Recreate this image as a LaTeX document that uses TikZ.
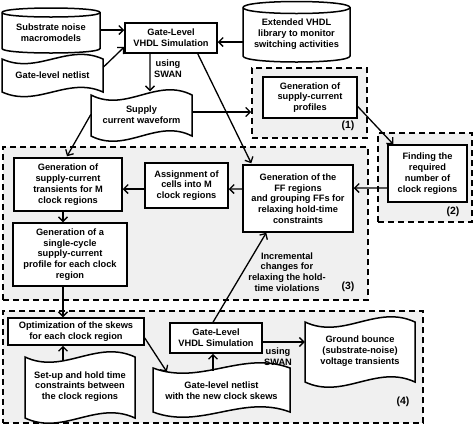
\documentclass[tikz,border=0pt]{standalone}
\usepackage{fontspec}
\setmainfont{Liberation Sans}
\usetikzlibrary{arrows.meta,calc}
\newcommand{\tapeshape}[5]{%
 \draw[shp] (#1,#2) .. controls ({#1+0.35*(#3-#1)},{#2+#5}) and ({#1+0.65*(#3-#1)},{#2-#5}) .. (#3,#2) -- (#3,#4) .. controls ({#1+0.65*(#3-#1)},{#4-#5}) and ({#1+0.35*(#3-#1)},{#4+#5}) .. (#1,#4) -- cycle;}
\newcommand{\cylshape}[5]{%
 \draw[shp] (#1,{#2+#5}) -- (#1,{#4-#5}) .. controls (#1,{#4+#5/3}) and (#3,{#4+#5/3}) .. (#3,{#4-#5}) -- (#3,{#2+#5}) .. controls (#3,{#2-#5/3}) and (#1,{#2-#5/3}) .. (#1,{#2+#5}) -- cycle;
 \draw[line width=1.5bp] (#1,{#2+#5}) .. controls (#1,{#2+7*#5/3}) and (#3,{#2+7*#5/3}) .. (#3,{#2+#5});}
\begin{document}
\begin{tikzpicture}[x=1bp,y=-1bp,
  txt/.style={font=\fontsize{9.3}{10.8}\selectfont\bfseries, align=center, inner sep=0pt},
  boxn/.style={txt, draw, fill=white, line width=1.5bp},
  dbox/.style={draw, fill=gray!12, dash pattern=on 6bp off 4bp, line width=1.8bp, inner sep=0pt},
  arr/.style={line width=1.3bp, -{Straight Barb[length=4.5bp,width=9bp,line width=1.3bp]}},
  lbl/.style={font=\fontsize{10.5}{12}\selectfont\bfseries, inner sep=0pt},
  shp/.style={draw, fill=white, line width=1.5bp}
]
\useasboundingbox (0,0) rectangle (474,425);

% dashed groups
\node[dbox, minimum width=115bp, minimum height=70bp] (g1) at (309.5,103) {};
\node[dbox, minimum width=94bp, minimum height=89bp] (g2) at (425,177.5) {};
\node[dbox, minimum width=365bp, minimum height=153bp] (g3) at (185.5,223.5) {};
\node[dbox, minimum width=420bp, minimum height=112bp] (g4) at (213,367) {};
\node[lbl] (l1) at (348,126) {(1)};
\node[lbl] (l2) at (453,212) {(2)};
\node[lbl] (l3) at (348,287) {(3)};
\node[lbl] (l4) at (403,402) {(4)};

% cylinders
\cylshape{2}{8}{100}{53}{4.5}
\node[txt, minimum width=98bp, minimum height=40bp] (sub) at (51,33) {Substrate noise\\macromodels};
\cylshape{243}{1.5}{350}{62}{6}
\node[txt, minimum width=107bp, minimum height=50bp] (ext) at (296.5,34) {Extended VHDL\\library to monitor\\switching activities};

% tapes
\tapeshape{2}{59}{103}{92}{16}
\node[txt, minimum width=101bp, minimum height=33bp] (net1) at (52.5,75) {Gate-level netlist};
\tapeshape{91}{95}{192}{136}{18}
\node[txt, minimum width=101bp, minimum height=41bp] (wave) at (141.5,114.5) {Supply\\current waveform};
\tapeshape{25}{357}{135}{418}{18}
\node[txt, minimum width=110bp, minimum height=61bp] (setup) at (80,386.5) {Set-up and hold time\\constraints between\\the clock regions};
\tapeshape{153}{368}{290}{412}{18}
\node[txt, minimum width=137bp, minimum height=44bp] (net2) at (221.5,391) {Gate-level netlist\\with the new clock skews};
\tapeshape{305}{322}{415}{382}{18}
\node[txt, minimum width=110bp, minimum height=60bp] (gb) at (360,351) {Ground bounce\\(substrate-noise)\\voltage transients};

% boxes
\node[boxn, minimum width=92bp, minimum height=30bp] (vhdl1) at (171,38) {Gate-Level\\VHDL Simulation};
\node[txt] (swan1) at (168,68.5) {using\\SWAN};
\node[boxn, minimum width=94bp, minimum height=41bp] (prof) at (310,97.5) {Generation of\\supply-current\\profiles};
\node[boxn, minimum width=79bp, minimum height=57bp] (find) at (427.5,173.5) {Finding the\\required\\number of\\clock regions};
\node[boxn, minimum width=110bp, minimum height=67bp] (ff) at (298,198.5) {Generation of the\\FF regions\\and grouping FFs for\\relaxing hold-time\\constraints};
\node[boxn, minimum width=83bp, minimum height=45bp] (assign) at (186.5,185.5) {Assignment of\\cells into M\\clock regions};
\node[boxn, minimum width=108bp, minimum height=53bp] (trans) at (68,184.5) {Generation of\\supply-current\\transients for M\\clock regions};
\node[boxn, minimum width=114bp, minimum height=63bp] (single) at (70,254.5) {Generation of a\\single-cycle\\supply-current\\profile for each clock\\region};
\node[txt] (incr) at (287,272) {Incremental\\changes for\\relaxing the hold-\\time violations};
\node[boxn, minimum width=136bp, minimum height=27bp] (opt) at (76,331.5) {Optimization of the skews\\for each clock region};
\node[boxn, minimum width=92bp, minimum height=30bp] (vhdl2) at (216,338) {Gate-Level\\VHDL Simulation};
\node[txt] (swan2) at (278,357) {using\\SWAN};

% connectors
\draw[arr] ($(sub.east)+(0,-3)$) -- ($(vhdl1.west)+(0,-8)$);
\draw[arr] ($(net1.north east)+(0,9)$) -- ($(vhdl1.west)+(0,9)$);
\draw[arr] ($(ext.west)+(0,8)$) -- ($(vhdl1.east)+(0,4)$);
\draw[arr] ($(vhdl1.south)+(-21,0)$) -- ($(wave.north)+(8.5,-2.5)$);
\draw[arr] ($(vhdl1.south east)+(-20,0)$) -- ($(ff.north west)+(9,-1)$);
\draw[arr] ($(wave.east)+(0,-2.5)$) -- ($(g1.west)+(0,9)$);
\draw[arr] (wave.west) -- ($(trans.north)+(-1,-1)$);
\draw[arr] ($(prof.east)+(0,9)$) -- ($(find.north west)+(6,0)$);
\draw[arr] ($(find.west)+(0,14.5)$) -- ($(ff.east)+(0,-10.5)$);
\draw[arr] ($(ff.west)+(0,-9.5)$) -- ($(assign.east)+(0,3.5)$);
\draw[arr] ($(assign.west)+(0,3.5)$) -- ($(trans.east)+(0,4.5)$);
\draw[arr] ($(trans.south)+(-5,0)$) -- ($(single.north)+(-7,0)$);
\draw[arr] ($(single.south)+(-7,0)$) -- ($(opt.north)+(-13,0)$);
\draw[arr] ($(setup.north)+(-17,3.8)$) -- ($(opt.south)+(-13,0)$);
\draw[arr] ($(opt.east)+(0,6.5)$) -- ($(net2.north west)+(14,3)$);
\draw[arr] ($(net2.north)+(-8.5,1.7)$) -- ($(vhdl2.south)+(-3,0)$);
\draw[arr] ($(vhdl2.east)+(0,4)$) -- ($(gb.west)+(0,-9)$);
\draw[arr] ($(vhdl2.north)+(-3,0)$) -- ($(ff.south west)+(24,0)$);
\end{tikzpicture}
\end{document}
